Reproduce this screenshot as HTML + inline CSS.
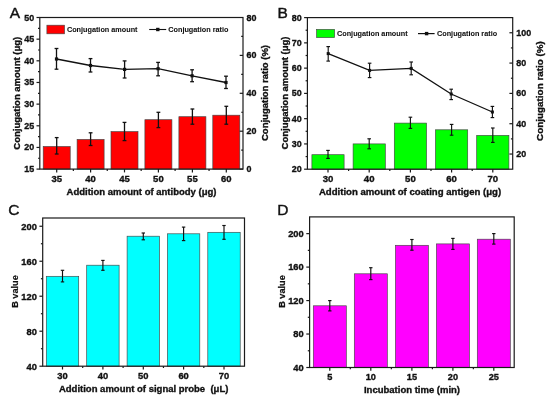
<!DOCTYPE html><html><head><meta charset="utf-8"><style>html,body{margin:0;padding:0;background:#fff;}svg{display:block;will-change:transform;}</style></head><body>
<svg width="550" height="403" viewBox="0 0 550 403" font-family='"Liberation Sans", sans-serif'>
<rect width="550" height="403" fill="#fff"/>
<rect x="43.20" y="146.50" width="27.00" height="22.60" fill="#ff0000" stroke="#444" stroke-width="0.65"/>
<line x1="56.70" y1="137.60" x2="56.70" y2="154.00" stroke="#111" stroke-width="1.3" />
<line x1="54.80" y1="137.60" x2="58.60" y2="137.60" stroke="#111" stroke-width="1.3" />
<line x1="54.80" y1="154.00" x2="58.60" y2="154.00" stroke="#111" stroke-width="1.3" />
<rect x="77.10" y="139.40" width="27.00" height="29.70" fill="#ff0000" stroke="#444" stroke-width="0.65"/>
<line x1="90.60" y1="132.80" x2="90.60" y2="145.50" stroke="#111" stroke-width="1.3" />
<line x1="88.70" y1="132.80" x2="92.50" y2="132.80" stroke="#111" stroke-width="1.3" />
<line x1="88.70" y1="145.50" x2="92.50" y2="145.50" stroke="#111" stroke-width="1.3" />
<rect x="111.00" y="131.60" width="27.00" height="37.50" fill="#ff0000" stroke="#444" stroke-width="0.65"/>
<line x1="124.50" y1="122.40" x2="124.50" y2="140.60" stroke="#111" stroke-width="1.3" />
<line x1="122.60" y1="122.40" x2="126.40" y2="122.40" stroke="#111" stroke-width="1.3" />
<line x1="122.60" y1="140.60" x2="126.40" y2="140.60" stroke="#111" stroke-width="1.3" />
<rect x="144.90" y="119.70" width="27.00" height="49.40" fill="#ff0000" stroke="#444" stroke-width="0.65"/>
<line x1="158.40" y1="112.30" x2="158.40" y2="127.60" stroke="#111" stroke-width="1.3" />
<line x1="156.50" y1="112.30" x2="160.30" y2="112.30" stroke="#111" stroke-width="1.3" />
<line x1="156.50" y1="127.60" x2="160.30" y2="127.60" stroke="#111" stroke-width="1.3" />
<rect x="178.90" y="116.70" width="27.00" height="52.40" fill="#ff0000" stroke="#444" stroke-width="0.65"/>
<line x1="192.40" y1="109.00" x2="192.40" y2="124.20" stroke="#111" stroke-width="1.3" />
<line x1="190.50" y1="109.00" x2="194.30" y2="109.00" stroke="#111" stroke-width="1.3" />
<line x1="190.50" y1="124.20" x2="194.30" y2="124.20" stroke="#111" stroke-width="1.3" />
<rect x="212.80" y="115.20" width="27.00" height="53.90" fill="#ff0000" stroke="#444" stroke-width="0.65"/>
<line x1="226.30" y1="106.30" x2="226.30" y2="124.20" stroke="#111" stroke-width="1.3" />
<line x1="224.40" y1="106.30" x2="228.20" y2="106.30" stroke="#111" stroke-width="1.3" />
<line x1="224.40" y1="124.20" x2="228.20" y2="124.20" stroke="#111" stroke-width="1.3" />
<polyline fill="none" stroke="#111" stroke-width="1.3" points="56.5,59.0 90.5,65.5 124.6,69.4 158.1,68.7 192.1,75.8 226,82.5"/>
<line x1="56.50" y1="48.50" x2="56.50" y2="69.20" stroke="#111" stroke-width="1.3" />
<line x1="54.60" y1="48.50" x2="58.40" y2="48.50" stroke="#111" stroke-width="1.3" />
<line x1="54.60" y1="69.20" x2="58.40" y2="69.20" stroke="#111" stroke-width="1.3" />
<rect x="54.90" y="57.40" width="3.2" height="3.2" fill="#111"/>
<line x1="90.50" y1="58.60" x2="90.50" y2="72.00" stroke="#111" stroke-width="1.3" />
<line x1="88.60" y1="58.60" x2="92.40" y2="58.60" stroke="#111" stroke-width="1.3" />
<line x1="88.60" y1="72.00" x2="92.40" y2="72.00" stroke="#111" stroke-width="1.3" />
<rect x="88.90" y="63.90" width="3.2" height="3.2" fill="#111"/>
<line x1="124.60" y1="60.90" x2="124.60" y2="78.00" stroke="#111" stroke-width="1.3" />
<line x1="122.70" y1="60.90" x2="126.50" y2="60.90" stroke="#111" stroke-width="1.3" />
<line x1="122.70" y1="78.00" x2="126.50" y2="78.00" stroke="#111" stroke-width="1.3" />
<rect x="123.00" y="67.80" width="3.2" height="3.2" fill="#111"/>
<line x1="158.10" y1="62.40" x2="158.10" y2="75.80" stroke="#111" stroke-width="1.3" />
<line x1="156.20" y1="62.40" x2="160.00" y2="62.40" stroke="#111" stroke-width="1.3" />
<line x1="156.20" y1="75.80" x2="160.00" y2="75.80" stroke="#111" stroke-width="1.3" />
<rect x="156.50" y="67.10" width="3.2" height="3.2" fill="#111"/>
<line x1="192.10" y1="69.80" x2="192.10" y2="81.70" stroke="#111" stroke-width="1.3" />
<line x1="190.20" y1="69.80" x2="194.00" y2="69.80" stroke="#111" stroke-width="1.3" />
<line x1="190.20" y1="81.70" x2="194.00" y2="81.70" stroke="#111" stroke-width="1.3" />
<rect x="190.50" y="74.20" width="3.2" height="3.2" fill="#111"/>
<line x1="226.00" y1="76.20" x2="226.00" y2="88.50" stroke="#111" stroke-width="1.3" />
<line x1="224.10" y1="76.20" x2="227.90" y2="76.20" stroke="#111" stroke-width="1.3" />
<line x1="224.10" y1="88.50" x2="227.90" y2="88.50" stroke="#111" stroke-width="1.3" />
<rect x="224.40" y="80.90" width="3.2" height="3.2" fill="#111"/>
<rect x="39.80" y="17.50" width="203.20" height="151.60" fill="none" stroke="#1a1a1a" stroke-width="1.2"/>
<line x1="36.50" y1="169.10" x2="39.80" y2="169.10" stroke="#1a1a1a" stroke-width="1.2" />
<text x="0" y="0" font-size="9.6" font-weight="bold" text-anchor="end" fill="#111" stroke="#111" stroke-width="0.35" transform="matrix(0.93,0,0,1,34.10,172.10)">15</text>
<line x1="36.50" y1="147.44" x2="39.80" y2="147.44" stroke="#1a1a1a" stroke-width="1.2" />
<text x="0" y="0" font-size="9.6" font-weight="bold" text-anchor="end" fill="#111" stroke="#111" stroke-width="0.35" transform="matrix(0.93,0,0,1,34.10,150.44)">20</text>
<line x1="36.50" y1="125.79" x2="39.80" y2="125.79" stroke="#1a1a1a" stroke-width="1.2" />
<text x="0" y="0" font-size="9.6" font-weight="bold" text-anchor="end" fill="#111" stroke="#111" stroke-width="0.35" transform="matrix(0.93,0,0,1,34.10,128.79)">25</text>
<line x1="36.50" y1="104.13" x2="39.80" y2="104.13" stroke="#1a1a1a" stroke-width="1.2" />
<text x="0" y="0" font-size="9.6" font-weight="bold" text-anchor="end" fill="#111" stroke="#111" stroke-width="0.35" transform="matrix(0.93,0,0,1,34.10,107.13)">30</text>
<line x1="36.50" y1="82.47" x2="39.80" y2="82.47" stroke="#1a1a1a" stroke-width="1.2" />
<text x="0" y="0" font-size="9.6" font-weight="bold" text-anchor="end" fill="#111" stroke="#111" stroke-width="0.35" transform="matrix(0.93,0,0,1,34.10,85.47)">35</text>
<line x1="36.50" y1="60.81" x2="39.80" y2="60.81" stroke="#1a1a1a" stroke-width="1.2" />
<text x="0" y="0" font-size="9.6" font-weight="bold" text-anchor="end" fill="#111" stroke="#111" stroke-width="0.35" transform="matrix(0.93,0,0,1,34.10,63.81)">40</text>
<line x1="36.50" y1="39.16" x2="39.80" y2="39.16" stroke="#1a1a1a" stroke-width="1.2" />
<text x="0" y="0" font-size="9.6" font-weight="bold" text-anchor="end" fill="#111" stroke="#111" stroke-width="0.35" transform="matrix(0.93,0,0,1,34.10,42.16)">45</text>
<line x1="36.50" y1="17.50" x2="39.80" y2="17.50" stroke="#1a1a1a" stroke-width="1.2" />
<text x="0" y="0" font-size="9.6" font-weight="bold" text-anchor="end" fill="#111" stroke="#111" stroke-width="0.35" transform="matrix(0.93,0,0,1,34.10,20.50)">50</text>
<line x1="38.00" y1="158.27" x2="39.80" y2="158.27" stroke="#1a1a1a" stroke-width="1.2" />
<line x1="38.00" y1="136.61" x2="39.80" y2="136.61" stroke="#1a1a1a" stroke-width="1.2" />
<line x1="38.00" y1="114.96" x2="39.80" y2="114.96" stroke="#1a1a1a" stroke-width="1.2" />
<line x1="38.00" y1="93.30" x2="39.80" y2="93.30" stroke="#1a1a1a" stroke-width="1.2" />
<line x1="38.00" y1="71.64" x2="39.80" y2="71.64" stroke="#1a1a1a" stroke-width="1.2" />
<line x1="38.00" y1="49.99" x2="39.80" y2="49.99" stroke="#1a1a1a" stroke-width="1.2" />
<line x1="38.00" y1="28.33" x2="39.80" y2="28.33" stroke="#1a1a1a" stroke-width="1.2" />
<line x1="239.70" y1="169.10" x2="243.00" y2="169.10" stroke="#1a1a1a" stroke-width="1.2" />
<text x="0" y="0" font-size="9.6" font-weight="bold" text-anchor="start" fill="#111" stroke="#111" stroke-width="0.35" transform="matrix(0.93,0,0,1,246.50,172.10)">0</text>
<line x1="239.70" y1="131.20" x2="243.00" y2="131.20" stroke="#1a1a1a" stroke-width="1.2" />
<text x="0" y="0" font-size="9.6" font-weight="bold" text-anchor="start" fill="#111" stroke="#111" stroke-width="0.35" transform="matrix(0.93,0,0,1,246.50,134.20)">20</text>
<line x1="239.70" y1="93.30" x2="243.00" y2="93.30" stroke="#1a1a1a" stroke-width="1.2" />
<text x="0" y="0" font-size="9.6" font-weight="bold" text-anchor="start" fill="#111" stroke="#111" stroke-width="0.35" transform="matrix(0.93,0,0,1,246.50,96.30)">40</text>
<line x1="239.70" y1="55.40" x2="243.00" y2="55.40" stroke="#1a1a1a" stroke-width="1.2" />
<text x="0" y="0" font-size="9.6" font-weight="bold" text-anchor="start" fill="#111" stroke="#111" stroke-width="0.35" transform="matrix(0.93,0,0,1,246.50,58.40)">60</text>
<line x1="241.20" y1="150.15" x2="243.00" y2="150.15" stroke="#1a1a1a" stroke-width="1.2" />
<line x1="241.20" y1="112.25" x2="243.00" y2="112.25" stroke="#1a1a1a" stroke-width="1.2" />
<line x1="241.20" y1="74.35" x2="243.00" y2="74.35" stroke="#1a1a1a" stroke-width="1.2" />
<line x1="241.20" y1="36.45" x2="243.00" y2="36.45" stroke="#1a1a1a" stroke-width="1.2" />
<text x="0" y="0" font-size="9.6" font-weight="bold" text-anchor="start" fill="#111" stroke="#111" stroke-width="0.35" transform="matrix(0.93,0,0,1,246.50,20.50)">80</text>
<line x1="56.70" y1="169.10" x2="56.70" y2="172.40" stroke="#1a1a1a" stroke-width="1.2" />
<text x="0" y="0" font-size="9.5" font-weight="bold" text-anchor="middle" fill="#111" stroke="#111" stroke-width="0.35" transform="matrix(1.0,0,0,1,56.70,181.60)">35</text>
<line x1="90.60" y1="169.10" x2="90.60" y2="172.40" stroke="#1a1a1a" stroke-width="1.2" />
<text x="0" y="0" font-size="9.5" font-weight="bold" text-anchor="middle" fill="#111" stroke="#111" stroke-width="0.35" transform="matrix(1.0,0,0,1,90.60,181.60)">40</text>
<line x1="124.50" y1="169.10" x2="124.50" y2="172.40" stroke="#1a1a1a" stroke-width="1.2" />
<text x="0" y="0" font-size="9.5" font-weight="bold" text-anchor="middle" fill="#111" stroke="#111" stroke-width="0.35" transform="matrix(1.0,0,0,1,124.50,181.60)">45</text>
<line x1="158.40" y1="169.10" x2="158.40" y2="172.40" stroke="#1a1a1a" stroke-width="1.2" />
<text x="0" y="0" font-size="9.5" font-weight="bold" text-anchor="middle" fill="#111" stroke="#111" stroke-width="0.35" transform="matrix(1.0,0,0,1,158.40,181.60)">50</text>
<line x1="192.40" y1="169.10" x2="192.40" y2="172.40" stroke="#1a1a1a" stroke-width="1.2" />
<text x="0" y="0" font-size="9.5" font-weight="bold" text-anchor="middle" fill="#111" stroke="#111" stroke-width="0.35" transform="matrix(1.0,0,0,1,192.40,181.60)">55</text>
<line x1="226.30" y1="169.10" x2="226.30" y2="172.40" stroke="#1a1a1a" stroke-width="1.2" />
<text x="0" y="0" font-size="9.5" font-weight="bold" text-anchor="middle" fill="#111" stroke="#111" stroke-width="0.35" transform="matrix(1.0,0,0,1,226.30,181.60)">60</text>
<line x1="73.35" y1="169.10" x2="73.35" y2="170.90" stroke="#1a1a1a" stroke-width="1.2" />
<line x1="107.25" y1="169.10" x2="107.25" y2="170.90" stroke="#1a1a1a" stroke-width="1.2" />
<line x1="141.15" y1="169.10" x2="141.15" y2="170.90" stroke="#1a1a1a" stroke-width="1.2" />
<line x1="175.10" y1="169.10" x2="175.10" y2="170.90" stroke="#1a1a1a" stroke-width="1.2" />
<line x1="209.05" y1="169.10" x2="209.05" y2="170.90" stroke="#1a1a1a" stroke-width="1.2" />
<text x="0" y="0" font-size="9.5" font-weight="bold" text-anchor="middle" fill="#111" stroke="#111" stroke-width="0.35" transform="matrix(1.0,0,0,1,141.50,194.70)">Addition amount of antibody (μg)</text>
<text x="0" y="0" font-size="9.5" font-weight="bold" text-anchor="middle" fill="#111" stroke="#111" stroke-width="0.35" transform="translate(19.80,93.25) rotate(-90) scale(1.0,1)">Conjugation amount (μg)</text>
<text x="0" y="0" font-size="9.5" font-weight="bold" text-anchor="middle" fill="#111" stroke="#111" stroke-width="0.35" transform="translate(267.60,93.00) rotate(-90) scale(1.0,1)">Conjugation ratio (%)</text>
<rect x="46.9" y="25.2" width="17.6" height="8.6" fill="#ff0000" stroke="#444" stroke-width="0.65"/>
<text x="0" y="0" font-size="7.5" font-weight="bold" text-anchor="start" fill="#111" stroke="#111" stroke-width="0.08" transform="matrix(0.97,0,0,1,66.90,32.10)">Conjugation amount</text>
<line x1="149.20" y1="29.50" x2="166.20" y2="29.50" stroke="#111" stroke-width="1.1" />
<rect x="156.1" y="27.8" width="3.4" height="3.4" fill="#111"/>
<text x="0" y="0" font-size="7.5" font-weight="bold" text-anchor="start" fill="#111" stroke="#111" stroke-width="0.08" transform="matrix(0.97,0,0,1,168.30,32.10)">Conjugation ratio</text>
<text x="0" y="0" font-size="15.5" font-weight="normal" text-anchor="start" fill="#111" stroke="#111" stroke-width="0.4" transform="matrix(1.0,0,0,1,9.70,18.10)">A</text>
<rect x="311.90" y="154.70" width="32.20" height="14.50" fill="#00ff00" stroke="#444" stroke-width="0.65"/>
<line x1="328.00" y1="150.40" x2="328.00" y2="158.40" stroke="#111" stroke-width="1.15" />
<line x1="326.20" y1="150.40" x2="329.80" y2="150.40" stroke="#111" stroke-width="1.15" />
<line x1="326.20" y1="158.40" x2="329.80" y2="158.40" stroke="#111" stroke-width="1.15" />
<rect x="353.10" y="143.90" width="32.20" height="25.30" fill="#00ff00" stroke="#444" stroke-width="0.65"/>
<line x1="369.20" y1="138.80" x2="369.20" y2="148.80" stroke="#111" stroke-width="1.15" />
<line x1="367.40" y1="138.80" x2="371.00" y2="138.80" stroke="#111" stroke-width="1.15" />
<line x1="367.40" y1="148.80" x2="371.00" y2="148.80" stroke="#111" stroke-width="1.15" />
<rect x="394.30" y="123.10" width="32.20" height="46.10" fill="#00ff00" stroke="#444" stroke-width="0.65"/>
<line x1="410.40" y1="117.20" x2="410.40" y2="128.40" stroke="#111" stroke-width="1.15" />
<line x1="408.60" y1="117.20" x2="412.20" y2="117.20" stroke="#111" stroke-width="1.15" />
<line x1="408.60" y1="128.40" x2="412.20" y2="128.40" stroke="#111" stroke-width="1.15" />
<rect x="435.50" y="129.80" width="32.20" height="39.40" fill="#00ff00" stroke="#444" stroke-width="0.65"/>
<line x1="451.60" y1="124.40" x2="451.60" y2="135.20" stroke="#111" stroke-width="1.15" />
<line x1="449.80" y1="124.40" x2="453.40" y2="124.40" stroke="#111" stroke-width="1.15" />
<line x1="449.80" y1="135.20" x2="453.40" y2="135.20" stroke="#111" stroke-width="1.15" />
<rect x="476.70" y="135.40" width="32.20" height="33.80" fill="#00ff00" stroke="#444" stroke-width="0.65"/>
<line x1="492.80" y1="128.00" x2="492.80" y2="142.40" stroke="#111" stroke-width="1.15" />
<line x1="491.00" y1="128.00" x2="494.60" y2="128.00" stroke="#111" stroke-width="1.15" />
<line x1="491.00" y1="142.40" x2="494.60" y2="142.40" stroke="#111" stroke-width="1.15" />
<polyline fill="none" stroke="#111" stroke-width="1.3" points="328.2,53.6 369.6,70.4 411.2,68.4 451.2,94 492.4,112"/>
<line x1="328.20" y1="46.60" x2="328.20" y2="61.10" stroke="#111" stroke-width="1.15" />
<line x1="326.40" y1="46.60" x2="330.00" y2="46.60" stroke="#111" stroke-width="1.15" />
<line x1="326.40" y1="61.10" x2="330.00" y2="61.10" stroke="#111" stroke-width="1.15" />
<rect x="326.70" y="52.10" width="3.0" height="3.0" fill="#111"/>
<line x1="369.60" y1="63.20" x2="369.60" y2="77.60" stroke="#111" stroke-width="1.15" />
<line x1="367.80" y1="63.20" x2="371.40" y2="63.20" stroke="#111" stroke-width="1.15" />
<line x1="367.80" y1="77.60" x2="371.40" y2="77.60" stroke="#111" stroke-width="1.15" />
<rect x="368.10" y="68.90" width="3.0" height="3.0" fill="#111"/>
<line x1="411.20" y1="62.00" x2="411.20" y2="74.80" stroke="#111" stroke-width="1.15" />
<line x1="409.40" y1="62.00" x2="413.00" y2="62.00" stroke="#111" stroke-width="1.15" />
<line x1="409.40" y1="74.80" x2="413.00" y2="74.80" stroke="#111" stroke-width="1.15" />
<rect x="409.70" y="66.90" width="3.0" height="3.0" fill="#111"/>
<line x1="451.20" y1="89.20" x2="451.20" y2="99.60" stroke="#111" stroke-width="1.15" />
<line x1="449.40" y1="89.20" x2="453.00" y2="89.20" stroke="#111" stroke-width="1.15" />
<line x1="449.40" y1="99.60" x2="453.00" y2="99.60" stroke="#111" stroke-width="1.15" />
<rect x="449.70" y="92.50" width="3.0" height="3.0" fill="#111"/>
<line x1="492.40" y1="106.40" x2="492.40" y2="117.60" stroke="#111" stroke-width="1.15" />
<line x1="490.60" y1="106.40" x2="494.20" y2="106.40" stroke="#111" stroke-width="1.15" />
<line x1="490.60" y1="117.60" x2="494.20" y2="117.60" stroke="#111" stroke-width="1.15" />
<rect x="490.90" y="110.50" width="3.0" height="3.0" fill="#111"/>
<rect x="307.40" y="17.60" width="205.30" height="151.60" fill="none" stroke="#1a1a1a" stroke-width="1.2"/>
<line x1="304.10" y1="169.20" x2="307.40" y2="169.20" stroke="#1a1a1a" stroke-width="1.2" />
<text x="0" y="0" font-size="9.6" font-weight="bold" text-anchor="end" fill="#111" stroke="#111" stroke-width="0.35" transform="matrix(0.93,0,0,1,301.70,172.20)">20</text>
<line x1="304.10" y1="143.93" x2="307.40" y2="143.93" stroke="#1a1a1a" stroke-width="1.2" />
<text x="0" y="0" font-size="9.6" font-weight="bold" text-anchor="end" fill="#111" stroke="#111" stroke-width="0.35" transform="matrix(0.93,0,0,1,301.70,146.93)">30</text>
<line x1="304.10" y1="118.67" x2="307.40" y2="118.67" stroke="#1a1a1a" stroke-width="1.2" />
<text x="0" y="0" font-size="9.6" font-weight="bold" text-anchor="end" fill="#111" stroke="#111" stroke-width="0.35" transform="matrix(0.93,0,0,1,301.70,121.67)">40</text>
<line x1="304.10" y1="93.40" x2="307.40" y2="93.40" stroke="#1a1a1a" stroke-width="1.2" />
<text x="0" y="0" font-size="9.6" font-weight="bold" text-anchor="end" fill="#111" stroke="#111" stroke-width="0.35" transform="matrix(0.93,0,0,1,301.70,96.40)">50</text>
<line x1="304.10" y1="68.13" x2="307.40" y2="68.13" stroke="#1a1a1a" stroke-width="1.2" />
<text x="0" y="0" font-size="9.6" font-weight="bold" text-anchor="end" fill="#111" stroke="#111" stroke-width="0.35" transform="matrix(0.93,0,0,1,301.70,71.13)">60</text>
<line x1="304.10" y1="42.87" x2="307.40" y2="42.87" stroke="#1a1a1a" stroke-width="1.2" />
<text x="0" y="0" font-size="9.6" font-weight="bold" text-anchor="end" fill="#111" stroke="#111" stroke-width="0.35" transform="matrix(0.93,0,0,1,301.70,45.87)">70</text>
<line x1="304.10" y1="17.60" x2="307.40" y2="17.60" stroke="#1a1a1a" stroke-width="1.2" />
<text x="0" y="0" font-size="9.6" font-weight="bold" text-anchor="end" fill="#111" stroke="#111" stroke-width="0.35" transform="matrix(0.93,0,0,1,301.70,20.60)">80</text>
<line x1="305.60" y1="156.57" x2="307.40" y2="156.57" stroke="#1a1a1a" stroke-width="1.2" />
<line x1="305.60" y1="131.30" x2="307.40" y2="131.30" stroke="#1a1a1a" stroke-width="1.2" />
<line x1="305.60" y1="106.03" x2="307.40" y2="106.03" stroke="#1a1a1a" stroke-width="1.2" />
<line x1="305.60" y1="80.77" x2="307.40" y2="80.77" stroke="#1a1a1a" stroke-width="1.2" />
<line x1="305.60" y1="55.50" x2="307.40" y2="55.50" stroke="#1a1a1a" stroke-width="1.2" />
<line x1="305.60" y1="30.23" x2="307.40" y2="30.23" stroke="#1a1a1a" stroke-width="1.2" />
<line x1="509.40" y1="154.04" x2="512.70" y2="154.04" stroke="#1a1a1a" stroke-width="1.2" />
<text x="0" y="0" font-size="9.6" font-weight="bold" text-anchor="start" fill="#111" stroke="#111" stroke-width="0.35" transform="matrix(0.93,0,0,1,516.20,157.04)">20</text>
<line x1="509.40" y1="123.72" x2="512.70" y2="123.72" stroke="#1a1a1a" stroke-width="1.2" />
<text x="0" y="0" font-size="9.6" font-weight="bold" text-anchor="start" fill="#111" stroke="#111" stroke-width="0.35" transform="matrix(0.93,0,0,1,516.20,126.72)">40</text>
<line x1="509.40" y1="93.40" x2="512.70" y2="93.40" stroke="#1a1a1a" stroke-width="1.2" />
<text x="0" y="0" font-size="9.6" font-weight="bold" text-anchor="start" fill="#111" stroke="#111" stroke-width="0.35" transform="matrix(0.93,0,0,1,516.20,96.40)">60</text>
<line x1="509.40" y1="63.08" x2="512.70" y2="63.08" stroke="#1a1a1a" stroke-width="1.2" />
<text x="0" y="0" font-size="9.6" font-weight="bold" text-anchor="start" fill="#111" stroke="#111" stroke-width="0.35" transform="matrix(0.93,0,0,1,516.20,66.08)">80</text>
<line x1="509.40" y1="32.76" x2="512.70" y2="32.76" stroke="#1a1a1a" stroke-width="1.2" />
<text x="0" y="0" font-size="9.6" font-weight="bold" text-anchor="start" fill="#111" stroke="#111" stroke-width="0.35" transform="matrix(0.93,0,0,1,516.20,35.76)">100</text>
<line x1="510.90" y1="138.88" x2="512.70" y2="138.88" stroke="#1a1a1a" stroke-width="1.2" />
<line x1="510.90" y1="108.56" x2="512.70" y2="108.56" stroke="#1a1a1a" stroke-width="1.2" />
<line x1="510.90" y1="78.24" x2="512.70" y2="78.24" stroke="#1a1a1a" stroke-width="1.2" />
<line x1="510.90" y1="47.92" x2="512.70" y2="47.92" stroke="#1a1a1a" stroke-width="1.2" />
<line x1="328.00" y1="169.20" x2="328.00" y2="172.50" stroke="#1a1a1a" stroke-width="1.2" />
<text x="0" y="0" font-size="9.6" font-weight="bold" text-anchor="middle" fill="#111" stroke="#111" stroke-width="0.35" transform="matrix(1.0,0,0,1,328.00,181.70)">30</text>
<line x1="369.20" y1="169.20" x2="369.20" y2="172.50" stroke="#1a1a1a" stroke-width="1.2" />
<text x="0" y="0" font-size="9.6" font-weight="bold" text-anchor="middle" fill="#111" stroke="#111" stroke-width="0.35" transform="matrix(1.0,0,0,1,369.20,181.70)">40</text>
<line x1="410.40" y1="169.20" x2="410.40" y2="172.50" stroke="#1a1a1a" stroke-width="1.2" />
<text x="0" y="0" font-size="9.6" font-weight="bold" text-anchor="middle" fill="#111" stroke="#111" stroke-width="0.35" transform="matrix(1.0,0,0,1,410.40,181.70)">50</text>
<line x1="451.60" y1="169.20" x2="451.60" y2="172.50" stroke="#1a1a1a" stroke-width="1.2" />
<text x="0" y="0" font-size="9.6" font-weight="bold" text-anchor="middle" fill="#111" stroke="#111" stroke-width="0.35" transform="matrix(1.0,0,0,1,451.60,181.70)">60</text>
<line x1="492.80" y1="169.20" x2="492.80" y2="172.50" stroke="#1a1a1a" stroke-width="1.2" />
<text x="0" y="0" font-size="9.6" font-weight="bold" text-anchor="middle" fill="#111" stroke="#111" stroke-width="0.35" transform="matrix(1.0,0,0,1,492.80,181.70)">70</text>
<line x1="348.60" y1="169.20" x2="348.60" y2="171.00" stroke="#1a1a1a" stroke-width="1.2" />
<line x1="389.80" y1="169.20" x2="389.80" y2="171.00" stroke="#1a1a1a" stroke-width="1.2" />
<line x1="431.00" y1="169.20" x2="431.00" y2="171.00" stroke="#1a1a1a" stroke-width="1.2" />
<line x1="472.20" y1="169.20" x2="472.20" y2="171.00" stroke="#1a1a1a" stroke-width="1.2" />
<text x="0" y="0" font-size="9.6" font-weight="bold" text-anchor="middle" fill="#111" stroke="#111" stroke-width="0.35" transform="matrix(1.0,0,0,1,410.00,194.70)">Addition amount of coating antigen (μg)</text>
<text x="0" y="0" font-size="9.5" font-weight="bold" text-anchor="middle" fill="#111" stroke="#111" stroke-width="0.35" transform="translate(288.00,93.00) rotate(-90) scale(1.0,1)">Conjugation amount (μg)</text>
<text x="0" y="0" font-size="9.9" font-weight="bold" text-anchor="middle" fill="#111" stroke="#111" stroke-width="0.35" transform="translate(543.30,91.00) rotate(-90) scale(1.0,1)">Conjugation ratio (%)</text>
<rect x="316.6" y="29.4" width="18" height="8.2" fill="#00ff00" stroke="#444" stroke-width="0.65"/>
<text x="0" y="0" font-size="7.5" font-weight="bold" text-anchor="start" fill="#111" stroke="#111" stroke-width="0.08" transform="matrix(0.97,0,0,1,337.00,36.20)">Conjugation amount</text>
<line x1="418.00" y1="33.60" x2="434.60" y2="33.60" stroke="#111" stroke-width="1.2" />
<rect x="424.9" y="31.9" width="3.4" height="3.4" fill="#111"/>
<text x="0" y="0" font-size="7.5" font-weight="bold" text-anchor="start" fill="#111" stroke="#111" stroke-width="0.08" transform="matrix(0.97,0,0,1,437.00,36.20)">Conjugation ratio</text>
<text x="0" y="0" font-size="15.5" font-weight="normal" text-anchor="start" fill="#111" stroke="#111" stroke-width="0.4" transform="matrix(1.0,0,0,1,277.60,18.30)">B</text>
<rect x="46.30" y="276.30" width="32.40" height="89.90" fill="#00ffff" stroke="#444" stroke-width="0.65"/>
<line x1="62.50" y1="270.30" x2="62.50" y2="281.90" stroke="#111" stroke-width="1.15" />
<line x1="60.80" y1="270.30" x2="64.20" y2="270.30" stroke="#111" stroke-width="1.15" />
<line x1="60.80" y1="281.90" x2="64.20" y2="281.90" stroke="#111" stroke-width="1.15" />
<rect x="86.70" y="265.20" width="32.40" height="101.00" fill="#00ffff" stroke="#444" stroke-width="0.65"/>
<line x1="102.90" y1="260.40" x2="102.90" y2="270.30" stroke="#111" stroke-width="1.15" />
<line x1="101.20" y1="260.40" x2="104.60" y2="260.40" stroke="#111" stroke-width="1.15" />
<line x1="101.20" y1="270.30" x2="104.60" y2="270.30" stroke="#111" stroke-width="1.15" />
<rect x="127.10" y="236.20" width="32.40" height="130.00" fill="#00ffff" stroke="#444" stroke-width="0.65"/>
<line x1="143.30" y1="233.00" x2="143.30" y2="239.80" stroke="#111" stroke-width="1.15" />
<line x1="141.60" y1="233.00" x2="145.00" y2="233.00" stroke="#111" stroke-width="1.15" />
<line x1="141.60" y1="239.80" x2="145.00" y2="239.80" stroke="#111" stroke-width="1.15" />
<rect x="167.40" y="233.80" width="32.40" height="132.40" fill="#00ffff" stroke="#444" stroke-width="0.65"/>
<line x1="183.60" y1="227.10" x2="183.60" y2="240.60" stroke="#111" stroke-width="1.15" />
<line x1="181.90" y1="227.10" x2="185.30" y2="227.10" stroke="#111" stroke-width="1.15" />
<line x1="181.90" y1="240.60" x2="185.30" y2="240.60" stroke="#111" stroke-width="1.15" />
<rect x="207.80" y="232.30" width="32.40" height="133.90" fill="#00ffff" stroke="#444" stroke-width="0.65"/>
<line x1="224.00" y1="225.50" x2="224.00" y2="239.30" stroke="#111" stroke-width="1.15" />
<line x1="222.30" y1="225.50" x2="225.70" y2="225.50" stroke="#111" stroke-width="1.15" />
<line x1="222.30" y1="239.30" x2="225.70" y2="239.30" stroke="#111" stroke-width="1.15" />
<rect x="42.70" y="218.00" width="201.80" height="148.20" fill="none" stroke="#1a1a1a" stroke-width="1.2"/>
<line x1="39.40" y1="366.20" x2="42.70" y2="366.20" stroke="#1a1a1a" stroke-width="1.2" />
<text x="0" y="0" font-size="9.3" font-weight="bold" text-anchor="end" fill="#111" stroke="#111" stroke-width="0.35" transform="matrix(1.0,0,0,1,36.80,369.50)">40</text>
<line x1="39.40" y1="331.21" x2="42.70" y2="331.21" stroke="#1a1a1a" stroke-width="1.2" />
<text x="0" y="0" font-size="9.3" font-weight="bold" text-anchor="end" fill="#111" stroke="#111" stroke-width="0.35" transform="matrix(1.0,0,0,1,36.80,334.51)">80</text>
<line x1="39.40" y1="296.22" x2="42.70" y2="296.22" stroke="#1a1a1a" stroke-width="1.2" />
<text x="0" y="0" font-size="9.3" font-weight="bold" text-anchor="end" fill="#111" stroke="#111" stroke-width="0.35" transform="matrix(1.0,0,0,1,36.80,299.52)">120</text>
<line x1="39.40" y1="261.24" x2="42.70" y2="261.24" stroke="#1a1a1a" stroke-width="1.2" />
<text x="0" y="0" font-size="9.3" font-weight="bold" text-anchor="end" fill="#111" stroke="#111" stroke-width="0.35" transform="matrix(1.0,0,0,1,36.80,264.54)">160</text>
<line x1="39.40" y1="226.25" x2="42.70" y2="226.25" stroke="#1a1a1a" stroke-width="1.2" />
<text x="0" y="0" font-size="9.3" font-weight="bold" text-anchor="end" fill="#111" stroke="#111" stroke-width="0.35" transform="matrix(1.0,0,0,1,36.80,229.55)">200</text>
<line x1="40.90" y1="348.71" x2="42.70" y2="348.71" stroke="#1a1a1a" stroke-width="1.2" />
<line x1="40.90" y1="313.72" x2="42.70" y2="313.72" stroke="#1a1a1a" stroke-width="1.2" />
<line x1="40.90" y1="278.73" x2="42.70" y2="278.73" stroke="#1a1a1a" stroke-width="1.2" />
<line x1="40.90" y1="243.74" x2="42.70" y2="243.74" stroke="#1a1a1a" stroke-width="1.2" />
<line x1="62.50" y1="366.20" x2="62.50" y2="369.50" stroke="#1a1a1a" stroke-width="1.2" />
<text x="0" y="0" font-size="9.4" font-weight="bold" text-anchor="middle" fill="#111" stroke="#111" stroke-width="0.35" transform="matrix(1.0,0,0,1,62.50,379.20)">30</text>
<line x1="102.90" y1="366.20" x2="102.90" y2="369.50" stroke="#1a1a1a" stroke-width="1.2" />
<text x="0" y="0" font-size="9.4" font-weight="bold" text-anchor="middle" fill="#111" stroke="#111" stroke-width="0.35" transform="matrix(1.0,0,0,1,102.90,379.20)">40</text>
<line x1="143.30" y1="366.20" x2="143.30" y2="369.50" stroke="#1a1a1a" stroke-width="1.2" />
<text x="0" y="0" font-size="9.4" font-weight="bold" text-anchor="middle" fill="#111" stroke="#111" stroke-width="0.35" transform="matrix(1.0,0,0,1,143.30,379.20)">50</text>
<line x1="183.60" y1="366.20" x2="183.60" y2="369.50" stroke="#1a1a1a" stroke-width="1.2" />
<text x="0" y="0" font-size="9.4" font-weight="bold" text-anchor="middle" fill="#111" stroke="#111" stroke-width="0.35" transform="matrix(1.0,0,0,1,183.60,379.20)">60</text>
<line x1="224.00" y1="366.20" x2="224.00" y2="369.50" stroke="#1a1a1a" stroke-width="1.2" />
<text x="0" y="0" font-size="9.4" font-weight="bold" text-anchor="middle" fill="#111" stroke="#111" stroke-width="0.35" transform="matrix(1.0,0,0,1,224.00,379.20)">70</text>
<line x1="82.70" y1="366.20" x2="82.70" y2="368.00" stroke="#1a1a1a" stroke-width="1.2" />
<line x1="123.10" y1="366.20" x2="123.10" y2="368.00" stroke="#1a1a1a" stroke-width="1.2" />
<line x1="163.45" y1="366.20" x2="163.45" y2="368.00" stroke="#1a1a1a" stroke-width="1.2" />
<line x1="203.80" y1="366.20" x2="203.80" y2="368.00" stroke="#1a1a1a" stroke-width="1.2" />
<text x="0" y="0" font-size="9.5" font-weight="bold" text-anchor="middle" fill="#111" stroke="#111" stroke-width="0.35" transform="matrix(1.0,0,0,1,143.65,391.50)">Addition amount of signal probe&#160;&#160;(μL)</text>
<text x="0" y="0" font-size="9.2" font-weight="bold" text-anchor="middle" fill="#111" stroke="#111" stroke-width="0.2" transform="translate(17.60,291.50) rotate(-90) scale(1.0,1)">B value</text>
<text x="0" y="0" font-size="15.5" font-weight="normal" text-anchor="start" fill="#111" stroke="#111" stroke-width="0.4" transform="matrix(1.0,0,0,1,8.30,215.00)">C</text>
<rect x="313.30" y="305.80" width="33.00" height="61.70" fill="#ff00ff" stroke="#444" stroke-width="0.65"/>
<line x1="329.80" y1="300.60" x2="329.80" y2="310.90" stroke="#111" stroke-width="1.15" />
<line x1="328.10" y1="300.60" x2="331.50" y2="300.60" stroke="#111" stroke-width="1.15" />
<line x1="328.10" y1="310.90" x2="331.50" y2="310.90" stroke="#111" stroke-width="1.15" />
<rect x="354.30" y="273.80" width="33.00" height="93.70" fill="#ff00ff" stroke="#444" stroke-width="0.65"/>
<line x1="370.80" y1="267.70" x2="370.80" y2="279.60" stroke="#111" stroke-width="1.15" />
<line x1="369.10" y1="267.70" x2="372.50" y2="267.70" stroke="#111" stroke-width="1.15" />
<line x1="369.10" y1="279.60" x2="372.50" y2="279.60" stroke="#111" stroke-width="1.15" />
<rect x="395.40" y="245.30" width="33.00" height="122.20" fill="#ff00ff" stroke="#444" stroke-width="0.65"/>
<line x1="411.90" y1="239.50" x2="411.90" y2="250.20" stroke="#111" stroke-width="1.15" />
<line x1="410.20" y1="239.50" x2="413.60" y2="239.50" stroke="#111" stroke-width="1.15" />
<line x1="410.20" y1="250.20" x2="413.60" y2="250.20" stroke="#111" stroke-width="1.15" />
<rect x="436.40" y="243.90" width="33.00" height="123.60" fill="#ff00ff" stroke="#444" stroke-width="0.65"/>
<line x1="452.90" y1="238.40" x2="452.90" y2="249.40" stroke="#111" stroke-width="1.15" />
<line x1="451.20" y1="238.40" x2="454.60" y2="238.40" stroke="#111" stroke-width="1.15" />
<line x1="451.20" y1="249.40" x2="454.60" y2="249.40" stroke="#111" stroke-width="1.15" />
<rect x="477.30" y="239.20" width="33.00" height="128.30" fill="#ff00ff" stroke="#444" stroke-width="0.65"/>
<line x1="493.80" y1="233.60" x2="493.80" y2="244.10" stroke="#111" stroke-width="1.15" />
<line x1="492.10" y1="233.60" x2="495.50" y2="233.60" stroke="#111" stroke-width="1.15" />
<line x1="492.10" y1="244.10" x2="495.50" y2="244.10" stroke="#111" stroke-width="1.15" />
<rect x="309.60" y="216.90" width="204.60" height="150.60" fill="none" stroke="#1a1a1a" stroke-width="1.2"/>
<line x1="306.30" y1="367.50" x2="309.60" y2="367.50" stroke="#1a1a1a" stroke-width="1.2" />
<text x="0" y="0" font-size="9.3" font-weight="bold" text-anchor="end" fill="#111" stroke="#111" stroke-width="0.35" transform="matrix(1.0,0,0,1,303.70,370.80)">40</text>
<line x1="306.30" y1="334.03" x2="309.60" y2="334.03" stroke="#1a1a1a" stroke-width="1.2" />
<text x="0" y="0" font-size="9.3" font-weight="bold" text-anchor="end" fill="#111" stroke="#111" stroke-width="0.35" transform="matrix(1.0,0,0,1,303.70,337.33)">80</text>
<line x1="306.30" y1="300.57" x2="309.60" y2="300.57" stroke="#1a1a1a" stroke-width="1.2" />
<text x="0" y="0" font-size="9.3" font-weight="bold" text-anchor="end" fill="#111" stroke="#111" stroke-width="0.35" transform="matrix(1.0,0,0,1,303.70,303.87)">120</text>
<line x1="306.30" y1="267.10" x2="309.60" y2="267.10" stroke="#1a1a1a" stroke-width="1.2" />
<text x="0" y="0" font-size="9.3" font-weight="bold" text-anchor="end" fill="#111" stroke="#111" stroke-width="0.35" transform="matrix(1.0,0,0,1,303.70,270.40)">160</text>
<line x1="306.30" y1="233.63" x2="309.60" y2="233.63" stroke="#1a1a1a" stroke-width="1.2" />
<text x="0" y="0" font-size="9.3" font-weight="bold" text-anchor="end" fill="#111" stroke="#111" stroke-width="0.35" transform="matrix(1.0,0,0,1,303.70,236.93)">200</text>
<line x1="307.80" y1="350.77" x2="309.60" y2="350.77" stroke="#1a1a1a" stroke-width="1.2" />
<line x1="307.80" y1="317.30" x2="309.60" y2="317.30" stroke="#1a1a1a" stroke-width="1.2" />
<line x1="307.80" y1="283.83" x2="309.60" y2="283.83" stroke="#1a1a1a" stroke-width="1.2" />
<line x1="307.80" y1="250.37" x2="309.60" y2="250.37" stroke="#1a1a1a" stroke-width="1.2" />
<line x1="329.80" y1="367.50" x2="329.80" y2="370.80" stroke="#1a1a1a" stroke-width="1.2" />
<text x="0" y="0" font-size="9.7" font-weight="bold" text-anchor="middle" fill="#111" stroke="#111" stroke-width="0.35" transform="matrix(0.95,0,0,1,329.80,380.20)">5</text>
<line x1="370.80" y1="367.50" x2="370.80" y2="370.80" stroke="#1a1a1a" stroke-width="1.2" />
<text x="0" y="0" font-size="9.7" font-weight="bold" text-anchor="middle" fill="#111" stroke="#111" stroke-width="0.35" transform="matrix(0.95,0,0,1,370.80,380.20)">10</text>
<line x1="411.90" y1="367.50" x2="411.90" y2="370.80" stroke="#1a1a1a" stroke-width="1.2" />
<text x="0" y="0" font-size="9.7" font-weight="bold" text-anchor="middle" fill="#111" stroke="#111" stroke-width="0.35" transform="matrix(0.95,0,0,1,411.90,380.20)">15</text>
<line x1="452.90" y1="367.50" x2="452.90" y2="370.80" stroke="#1a1a1a" stroke-width="1.2" />
<text x="0" y="0" font-size="9.7" font-weight="bold" text-anchor="middle" fill="#111" stroke="#111" stroke-width="0.35" transform="matrix(0.95,0,0,1,452.90,380.20)">20</text>
<line x1="493.80" y1="367.50" x2="493.80" y2="370.80" stroke="#1a1a1a" stroke-width="1.2" />
<text x="0" y="0" font-size="9.7" font-weight="bold" text-anchor="middle" fill="#111" stroke="#111" stroke-width="0.35" transform="matrix(0.95,0,0,1,493.80,380.20)">25</text>
<line x1="350.30" y1="367.50" x2="350.30" y2="369.30" stroke="#1a1a1a" stroke-width="1.2" />
<line x1="391.35" y1="367.50" x2="391.35" y2="369.30" stroke="#1a1a1a" stroke-width="1.2" />
<line x1="432.40" y1="367.50" x2="432.40" y2="369.30" stroke="#1a1a1a" stroke-width="1.2" />
<line x1="473.35" y1="367.50" x2="473.35" y2="369.30" stroke="#1a1a1a" stroke-width="1.2" />
<text x="0" y="0" font-size="9.5" font-weight="bold" text-anchor="middle" fill="#111" stroke="#111" stroke-width="0.35" transform="matrix(1.0,0,0,1,412.00,393.00)">Incubation time (min)</text>
<text x="0" y="0" font-size="9.2" font-weight="bold" text-anchor="middle" fill="#111" stroke="#111" stroke-width="0.25" transform="translate(284.60,291.50) rotate(-90) scale(1.0,1)">B value</text>
<text x="0" y="0" font-size="15.5" font-weight="normal" text-anchor="start" fill="#111" stroke="#111" stroke-width="0.4" transform="matrix(1.0,0,0,1,277.30,215.00)">D</text>
</svg></body></html>
